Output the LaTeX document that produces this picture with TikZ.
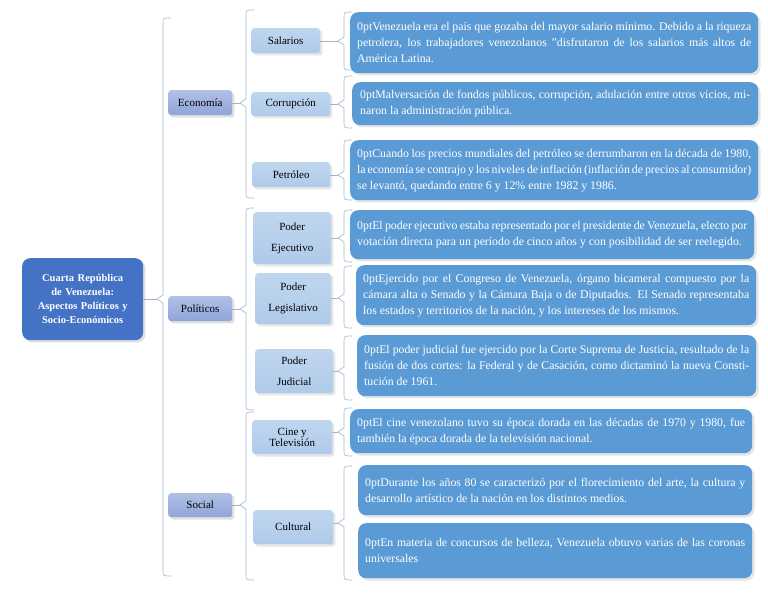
\documentclass[tikz,border=0pt]{standalone}
\usepackage{fontspec}
\setmainfont{Liberation Serif}
\usetikzlibrary{shadows}
\definecolor{rootc}{HTML}{4472C4}
\definecolor{lonec}{HTML}{8FA5D9}
\definecolor{ltwoc}{HTML}{AFCBEA}
\definecolor{lthreec}{HTML}{5B9BD5}
\definecolor{bracec}{HTML}{9FB6CF}
\tikzset{
 box/.style={rounded corners=3pt,inner sep=0pt,anchor=north west},
 rootbox/.style={box,fill=rootc,text=white,font=\bfseries\fontsize{10.5}{14}\selectfont,align=center,rounded corners=8pt,drop shadow={opacity=0.25}},
 onebox/.style={box,top color=lonec!70!white,bottom color=lonec,text=black,font=\fontsize{11}{12}\selectfont,align=center,drop shadow={opacity=0.25}},
 twobox/.style={box,top color=ltwoc!80!white,bottom color=ltwoc,text=black,font=\fontsize{11}{12}\selectfont,align=center,drop shadow={opacity=0.2}},
 threebox/.style={box,fill=lthreec,text=white,font=\fontsize{11.8}{16}\selectfont\hyphenpenalty=10000\exhyphenpenalty=10000,align=justify,rounded corners=8pt,drop shadow={opacity=0.2}},
 brc/.style={draw=bracec,line width=0.6pt},
}
\newcommand{\mybrace}[5]{% name x top mid bot
 \draw[brc] (#2+8,#3) .. controls (#2,#3) .. (#2,#3+6) -- (#2,#4-4) -- (#2-6,#4) -- (#2,#4+4) -- (#2,#5-6) .. controls (#2,#5) .. (#2+8,#5);
 \coordinate (#1) at (#2-6,#4);}
\begin{document}
\begin{tikzpicture}[x=1pt,y=-1pt]
\useasboundingbox[fill=white] (0,0) rectangle (768,594);
% root
\node[rootbox,minimum width=121,minimum height=82,text width=118] (root) at (22,258) {Cuarta República\\de Venezuela:\\Aspectos Políticos y\\Socio-Económicos};
% level 1
\node[onebox,minimum width=64,minimum height=25] (eco) at (168,90) {Economía};
\node[onebox,minimum width=64,minimum height=25] (pol) at (168,296) {Políticos};
\node[onebox,minimum width=64,minimum height=24] (soc) at (168,493) {Social};
% level 2
\node[twobox,minimum width=69,minimum height=25] (sal) at (251,28) {Salarios};
\node[twobox,minimum width=79,minimum height=24] (cor) at (251,92) {Corrupción};
\node[twobox,minimum width=78,minimum height=25] (pet) at (252,162) {Petróleo};
\node[twobox,minimum width=78,minimum height=52,font=\fontsize{11}{21}\selectfont] (eje) at (253,212) {Poder\\Ejecutivo};
\node[twobox,minimum width=76,minimum height=51,font=\fontsize{11}{21}\selectfont] (leg) at (255,273) {Poder\\Legislativo};
\node[twobox,minimum width=78,minimum height=44,font=\fontsize{11}{21}\selectfont] (jud) at (255,349) {Poder\\Judicial};
\node[twobox,minimum width=80,minimum height=34,font=\fontsize{11}{9}\selectfont] (cin) at (252,420) {Cine y\\Televisión};
\node[twobox,minimum width=80,minimum height=34] (cul) at (253,510) {Cultural};
% level 3
\node[threebox,minimum width=408,minimum height=61,text width=394] (t1) at (350,12) {Venezuela era el país que gozaba del mayor salario mínimo. Debido a la riqueza petrolera, los trabajadores venezolanos "disfrutaron de los salarios más altos de América Latina.};
\node[threebox,minimum width=406,minimum height=43,text width=390] (t2) at (352,82) {Malversación de fondos públicos, corrupción, adulación entre otros vicios, minaron la administración pública.};
\node[threebox,minimum width=408,minimum height=60,text width=394] (t3) at (350,140) {Cuando los precios mundiales del petróleo se derrumbaron en la década de 1980, la economía se contrajo y los niveles de inflación (inflación de precios al consumidor) se levantó, quedando entre 6 y 12\% entre 1982 y 1986.};
\node[threebox,minimum width=404,minimum height=49,text width=390] (t4) at (350,210) {El poder ejecutivo estaba representado por el presidente de Venezuela, electo por votación directa para un período de cinco años y con posibilidad de ser reelegido.};
\node[threebox,minimum width=400,minimum height=60,text width=386] (t5) at (356,265) {Ejercido por el Congreso de Venezuela, órgano bicameral compuesto por la cámara alta o Senado y la Cámara Baja o de Diputados. El Senado representaba los estados y territorios de la nación, y los intereses de los mismos.};
\node[threebox,minimum width=399,minimum height=61,text width=385] (t6) at (357,335) {El poder judicial fue ejercido por la Corte Suprema de Justicia, resultado de la fusión de dos cortes: la Federal y de Casación, como dictaminó la nueva Constitución de 1961.};
\node[threebox,minimum width=402,minimum height=44,text width=388] (t7) at (350,409) {El cine venezolano tuvo su época dorada en las décadas de 1970 y 1980, fue también la época dorada de la televisión nacional.};
\node[threebox,minimum width=394,minimum height=50,text width=380] (t8) at (358,465) {Durante los años 80 se caracterizó por el florecimiento del arte, la cultura y desarrollo artístico de la nación en los distintos medios.};
\node[threebox,minimum width=394,minimum height=55,text width=380] (t9) at (358,523) {En materia de concursos de belleza, Venezuela obtuvo varias de las coronas universales};
% braces
\mybrace{b0}{163}{18}{299}{576}
\mybrace{b1}{246}{10}{103}{198}
\mybrace{b2}{246}{208}{309}{410}
\mybrace{b3}{246}{412}{505}{580}
\mybrace{c1}{344}{12}{41}{70}
\mybrace{c2}{344}{76}{104}{128}
\mybrace{c3}{344}{140}{175}{200}
\mybrace{c4}{344}{210}{238}{262}
\mybrace{c5}{344}{266}{298}{328}
\mybrace{c6}{344}{336}{371}{400}
\mybrace{c7}{344}{408}{432}{456}
\mybrace{c8}{344}{466}{523}{580}
\draw[brc] (root.east|-b0) -- (b0);
\draw[brc] (eco.east|-b1) -- (b1);
\draw[brc] (pol.east|-b2) -- (b2);
\draw[brc] (soc.east|-b3) -- (b3);
\draw[brc] (sal.east|-c1) -- (c1);
\draw[brc] (cor.east|-c2) -- (c2);
\draw[brc] (pet.east|-c3) -- (c3);
\draw[brc] (eje.east|-c4) -- (c4);
\draw[brc] (leg.east|-c5) -- (c5);
\draw[brc] (jud.east|-c6) -- (c6);
\draw[brc] (cin.east|-c7) -- (c7);
\draw[brc] (cul.east|-c8) -- (c8);
\end{tikzpicture}
\end{document}
